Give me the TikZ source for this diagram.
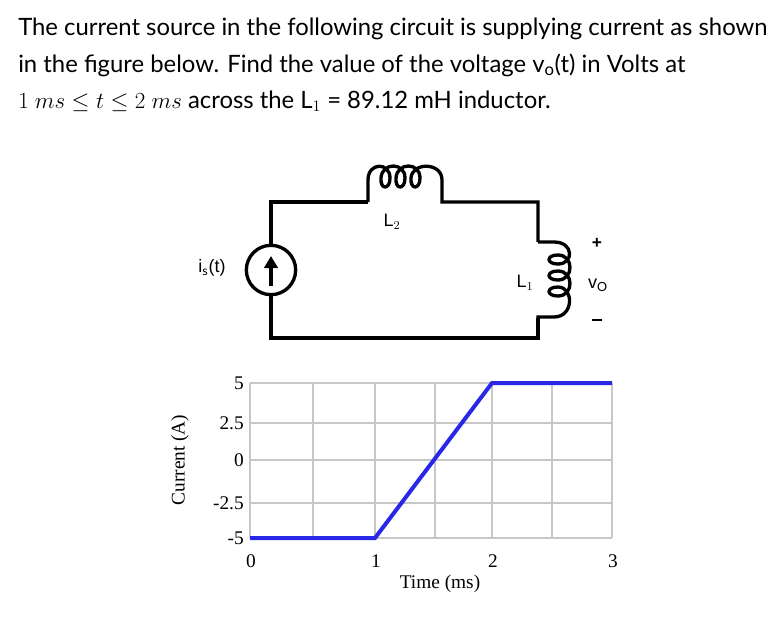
\documentclass[tikz,border=0pt]{standalone}
\usepackage{fontspec}
\usetikzlibrary{arrows.meta}
\setmainfont{Lato}
\newfontfamily\tnr{Liberation Serif}
\newfontfamily\cirf{Liberation Sans}
\begin{document}
\begin{tikzpicture}[x=0.75pt,y=-0.75pt,
  wire/.style={line width=2.5pt,line join=miter},
  grid/.style={draw=black!22,line width=1.6pt},
  tlab/.style={font=\tnr\fontsize{14.5}{14.5}\selectfont,inner sep=0pt},
  clab/.style={font=\cirf\fontsize{13.5}{13.5}\selectfont,inner sep=0pt},
  hdr/.style={font=\fontsize{17.9}{20}\selectfont,anchor=west,inner sep=0pt}]
\useasboundingbox (0,0) rectangle (784,631);
% header
\node[hdr] (h1) at (18,29) {The current source in the following circuit is supplying current as shown};
\node[hdr] (h2) at (18,65) {in the figure below. Find the value of the voltage v$_\mathrm{o}$(t) in Volts at};
\node[hdr] (h3) at (18,101) {$1\ ms \le t \le 2\ ms$ across the L$_1$ = 89.12 mH inductor.};
% circuit
\coordinate (tl) at (271,202);
\coordinate (bl) at (271,338);
\coordinate (tr) at (538,202);
\coordinate (br) at (538,338);
\node[circle,draw,line width=2.5pt,minimum size=37pt,inner sep=0pt] (src) at (271,270) {};
\draw[wire] (src.north) -- (tl) -- (368,202);
\draw[wire] (src.south) -- (bl) -- (br) -- (538,318);
\draw[wire,-{Triangle[length=9pt,width=10pt]}] (271,286) -- (271,256);
% L2 coil
\draw[wire] (368,202) -- (368,180)
  .. controls (368,162) and (390,162) .. (390,178)
  .. controls (390,190) and (380,190) .. (381,178)
  .. controls (382,162) and (405,162) .. (405,178)
  .. controls (405,190) and (395,190) .. (396,178)
  .. controls (397,162) and (420,162) .. (420,178)
  .. controls (420,190) and (410,190) .. (411,178)
  .. controls (412,162) and (442,162) .. (442,180) -- (442,202) -- (tr) -- (538,242);
% L1 coil
\draw[wire] (538,242) -- (554,242)
  .. controls (574,242) and (574,264) .. (558,264)
  .. controls (546,264) and (546,255) .. (558,255)
  .. controls (574,255) and (574,280) .. (558,280)
  .. controls (546,280) and (546,271) .. (558,271)
  .. controls (574,271) and (574,296) .. (558,296)
  .. controls (546,296) and (546,287) .. (558,287)
  .. controls (574,287) and (574,317) .. (554,317) -- (538,317) -- (538,318);
\node[clab] (l2) at (392,222) {L$_2$};
\node[clab] (l1) at (525,283) {L$_1$};
\node[clab] (is) at (212,268) {i$_\mathrm{s}$(t)};
\node[clab,font=\cirf\bfseries\fontsize{13}{13}\selectfont] (pl) at (597,243) {+};
\node[clab] (vo) at (598,285) {v$_\mathrm{O}$};
\node[clab] (mi) at (597,320) {\rule{7pt}{2pt}};
% graph grid
\foreach \x in {250,313,375,435,492,552,612} \draw[grid] (\x,383) -- (\x,538);
\foreach \y in {383,423,460,503,538} \draw[grid] (250,\y) -- (612,\y);
\draw[line width=3pt,draw={rgb,255:red,40;green,40;blue,230}] (250,538) -- (375,538) -- (492,383) -- (612,383);
\foreach \v/\y in {5/383,2.5/423,0/460,-2.5/503,-5/538} \node[tlab,anchor=east] at (244,\y) {\v};
\foreach \v/\x in {0/251,1/376,2/493,3/613} \node[tlab] at (\x,561) {\v};
\node[tlab] (tx) at (440,584) {Time (ms)};
\node[tlab,rotate=90] (cy) at (180,460) {Current (A)};
\end{tikzpicture}
\end{document}
